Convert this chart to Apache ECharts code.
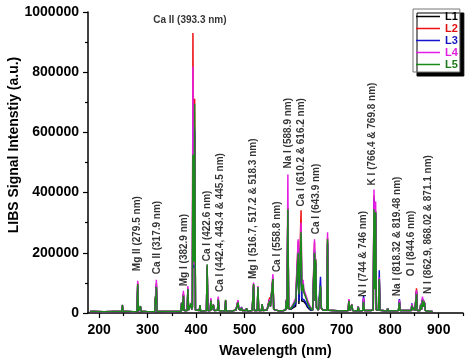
<!DOCTYPE html>
<html>
<head>
<meta charset="utf-8">
<script src="https://cdn.jsdelivr.net/npm/echarts@6/dist/echarts.min.js"></script>
<style>
html,body{margin:0;padding:0;background:#fff;}
#c{width:474px;height:363px;}
</style>
</head>
<body>
<div id="c"></div>
<script>
// Wavelength grid (nm)
const wavelength = [181,190.5,192,193.5,210,230,238,239.2,240.4,246.5,
247.9,249.3,251,252.2,253.4,270,278,279.5,281,284,
285.2,286.5,300,314.5,315.9,316.9,317.9,319.3,340,355,
356.2,357.4,368.5,370,371.5,372.4,373.7,375,381.5,382.9,
384.3,388,389.5,391,392.2,393.3,395,396.8,398.5,400,
406.5,407.8,409,421.2,422.6,424,429,430.3,431.5,434,
435.5,437,444,445.5,447,459.3,460.7,462,475,482,
484.5,486.1,487.7,490,492.2,493.4,494.6,502.5,503.8,505,
515.5,517.2,518.3,519.8,526,527.3,528.8,534.5,536,537.5,
546,550,551.5,553,556.5,558.2,559.8,570,580,584.3,
585.7,587.2,589,590.5,595,600,605,610.3,611.7,613.5,
616.2,617.6,620.3,622,626,630,635,640,642.5,643.9,
645.3,646.5,648,652,654.5,656.3,658,662,669.3,670.8,
672.3,700,713.3,714.8,716.3,719.5,721,722.5,732.5,734,
735.5,743.3,745,746.7,760,765,766.5,768.2,769.9,771.5,
776,777.4,778.8,793.5,794.8,796.2,817,818.9,820.5,843.3,
844.6,846,848.5,849.8,851,852.9,854.2,855.6,861.6,862.9,
864.5,866.5,868.2,869.5,871,872.5,880,887];

const L1 = [5000,5000,10000,5000,4000,5000,5000,8000,5000,5000,
24000,6000,5000,12000,5000,4000,5000,90000,6000,6000,
20000,6000,4000,5000,50000,30000,90000,6000,5000,5000,
10000,5000,6000,33000,8000,8000,62000,8000,8000,78000,
10000,10000,30000,12000,20000,600000,150000,600000,10000,8000,
8000,24000,7000,8000,150000,8000,8000,42000,10000,9000,
26000,8000,9000,45000,8000,7000,40000,7000,7000,10000,
14000,38000,14000,10000,9000,18000,8000,8000,15000,7000,
8000,60000,92000,8000,8000,80000,8000,8000,28000,8000,
10000,16000,45000,22000,18000,110000,12000,7000,8000,10000,
40000,14000,330000,15000,12000,18000,22000,200000,30000,35000,
250000,40000,45000,38000,30000,18000,10000,9000,12000,200000,
40000,160000,18000,10000,16000,80000,16000,9000,9000,230000,
9000,7000,8000,40000,8000,8000,26000,8000,7000,20000,
7000,8000,45000,8000,8000,10000,360000,80000,330000,10000,
10000,110000,9000,7000,15000,7000,8000,38000,8000,8000,
28000,10000,10000,18000,8000,8000,70000,8000,8000,28000,
12000,45000,20000,38000,30000,8000,6000,5000];

const L2 = [5000,5000,10000,5000,4000,5000,5000,8000,5000,5000,
24000,6000,5000,12000,5000,4000,5000,100000,6000,6000,
20000,6000,4000,5000,52000,32000,100000,6000,5000,5000,
10000,5000,6000,33000,8000,8000,65000,8000,8000,82000,
10000,10000,30000,12000,20000,930000,180000,712000,10000,8000,
8000,24000,7000,8000,155000,8000,8000,45000,10000,9000,
26000,8000,9000,48000,8000,7000,42000,7000,7000,10000,
14000,40000,14000,10000,9000,18000,8000,8000,15000,7000,
8000,62000,95000,8000,8000,82000,8000,8000,28000,8000,
10000,16000,52000,22000,18000,115000,12000,7000,8000,10000,
42000,14000,350000,15000,15000,26000,40000,239000,60000,65000,
341000,75000,90000,70000,55000,35000,18000,9000,12000,235000,
40000,170000,18000,10000,16000,85000,16000,9000,9000,250000,
9000,7000,8000,44000,8000,8000,28000,8000,7000,20000,
7000,8000,48000,8000,8000,10000,390000,80000,340000,10000,
10000,115000,9000,7000,15000,7000,8000,40000,8000,8000,
28000,10000,10000,19000,8000,8000,82000,8000,8000,29000,
12000,46000,20000,38000,30000,8000,6000,5000];

const L3 = [5000,5000,10000,5000,4000,5000,5000,8000,5000,5000,
25000,6000,5000,12000,5000,4000,5000,92000,6000,6000,
20000,6000,4000,5000,50000,30000,95000,6000,5000,5000,
10000,5000,6000,33000,8000,8000,60000,8000,8000,80000,
10000,10000,30000,12000,20000,620000,150000,610000,10000,8000,
8000,24000,7000,8000,152000,8000,8000,42000,10000,9000,
26000,8000,9000,46000,8000,7000,40000,7000,7000,10000,
14000,38000,14000,10000,9000,20000,8000,8000,15000,7000,
8000,60000,92000,8000,8000,80000,8000,8000,28000,8000,
10000,16000,44000,22000,18000,112000,12000,7000,8000,10000,
40000,14000,340000,15000,14000,22000,30000,210000,40000,42000,
260000,48000,50000,44000,35000,22000,12000,9000,12000,210000,
40000,165000,18000,10000,16000,120000,16000,9000,9000,235000,
9000,7000,8000,40000,8000,8000,27000,8000,7000,20000,
7000,8000,57000,8000,8000,10000,380000,80000,335000,10000,
10000,142000,9000,7000,15000,7000,8000,46000,8000,8000,
32000,10000,10000,20000,8000,8000,72000,8000,8000,30000,
12000,48000,20000,40000,30000,8000,6000,5000];

const L4 = [5000,5000,11000,5000,4000,5000,5000,8000,5000,5000,
27000,6000,5000,12000,5000,4000,5000,107000,6000,6000,
23000,6000,4000,5000,58000,34000,110000,6000,5000,5000,
11000,5000,6000,36000,8000,8000,74000,8000,8000,90000,
10000,10000,33000,12000,20000,818000,160000,620000,10000,8000,
8000,26000,7000,8000,160000,8000,8000,50000,10000,9000,
30000,8000,9000,55000,8000,7000,43000,7000,7000,10000,
14000,43000,14000,10000,9000,19000,8000,8000,16000,7000,
8000,66000,101000,8000,8000,90000,8000,8000,30000,8000,
10000,16000,46000,22000,18000,129000,12000,7000,8000,10000,
46000,14000,460000,15000,16000,30000,50000,245000,70000,75000,
300000,82000,110000,78000,60000,40000,20000,9000,12000,245000,
40000,180000,18000,10000,16000,88000,16000,9000,9000,268000,
9000,7000,8000,46000,8000,8000,30000,8000,7000,23000,
7000,8000,50000,8000,8000,10000,410000,80000,370000,10000,
10000,118000,9000,7000,16000,7000,8000,43000,8000,8000,
30000,10000,10000,20000,8000,8000,75000,8000,8000,32000,
12000,55000,20000,42000,32000,8000,6000,5000];

const L5 = [5000,5000,11000,5000,4000,5000,5000,8000,5000,5000,
27000,6000,5000,12000,5000,4000,5000,96000,6000,6000,
23000,6000,4000,5000,55000,30000,86000,6000,5000,5000,
11000,5000,6000,34000,8000,8000,57000,8000,8000,80000,
10000,10000,32000,12000,20000,526000,170000,695000,10000,8000,
8000,26000,7000,8000,162000,8000,8000,41000,10000,9000,
28000,8000,9000,45000,8000,7000,44000,7000,7000,10000,
14000,35000,14000,10000,9000,17000,8000,8000,16000,7000,
8000,62000,96000,8000,8000,86000,8000,8000,30000,8000,
10000,16000,40000,22000,18000,113000,12000,7000,8000,10000,
42000,14000,345000,15000,15000,27000,40000,200000,62000,66000,
270000,72000,95000,68000,52000,32000,17000,9000,12000,200000,
40000,178000,18000,10000,16000,90000,16000,9000,9000,245000,
9000,7000,8000,40000,8000,8000,28000,8000,7000,21000,
7000,8000,37000,8000,8000,10000,345000,80000,335000,10000,
10000,113000,9000,7000,15000,7000,8000,35000,8000,8000,
25000,10000,10000,18000,8000,8000,63000,8000,8000,28000,
12000,42000,20000,38000,30000,8000,6000,5000];

const seriesNames = ['L1','L2','L3','L4','L5'];
const xTickLabels = [200,300,400,500,600,700,800,900];
const xMinorTicks = [250,350,450,550,650,750,850,950];

// Peak annotations: text, anchor wavelength, anchor intensity
const annText = ['Ca II (393.3 nm)','Mg II (279.5 nm)','Ca II (317.9 nm)','Mg I (382.9 nm)',
  'Ca I (422.6 nm)','Ca I (442.4, 443.4 & 445.5 nm)','Mg I (516.7, 517.2 & 518.3 nm)',
  'Ca I (558.8 nm)','Na I (588.9 nm)','Ca I (610.2 & 616.2 nm)','Ca I (643.9 nm)',
  'N I (744 & 746 nm)','K I (766.4 & 769.8 nm)','Na I (818.32 & 819.48 nm)',
  'O I (844.6 nm)','N I (862.9, 868.02 & 871.1 nm)'];
const annX = [387,278,319.4,374.8,422.1,448.9,516.8,566.2,589,617,646.5,743.5,763.8,815,844,879];
const annY = [973000,139000,129000,89000,172000,69500,112600,135800,480000,354000,261600,53000,424000,56000,122500,63000];

const colors = ['#000000','#ee1111','#1515d0','#e51ee5','#1a8a1a'];
const textColors = ['#000000','#e01010','#1515c0','#e020e0','#1a7a1a'];
const FONT = 'Liberation Sans, Arial, Helvetica, sans-serif';

const chart = echarts.init(document.getElementById('c'), null, {renderer:'canvas'});

const lineSeries = [L1,L2,L3,L4,L5].map((vals, i) => ({
  name: seriesNames[i],
  type: 'line',
  symbol: 'none',
  animation: false,
  data: wavelength.map((w, k) => [w, vals[k]]),
  lineStyle: {color: colors[i], width: 1.5},
  itemStyle: {color: colors[i]},
  z: 2 + i
}));

const annSeries = {
  type: 'scatter',
  silent: true,
  animation: false,
  symbolSize: 0,
  z: 20,
  data: annText.map((t, i) => ({
    value: [annX[i], annY[i]],
    label: i === 0
      ? {show: true, formatter: t, rotate: 0, align: 'center', verticalAlign: 'middle', position: 'inside'}
      : {show: true, formatter: t, rotate: 90, align: 'left', verticalAlign: 'middle', position: 'inside'}
  })),
  label: {show: true, color: '#000', fontSize: 10, fontWeight: 'bold', fontFamily: FONT}
};

const legendIcon = 'path://M0,0 L0.01,0 M0,4.7 L24,4.7 L24,6.3 L0,6.3 Z M0,11 L0.01,11';
const richStyles = {};
seriesNames.forEach((n, i) => {
  richStyles[n] = {color: textColors[i], fontSize: 11, fontWeight: 'bold', fontFamily: FONT};
});

chart.setOption({
  animation: false,
  backgroundColor: '#fff',
  grid: {left: 88, right: 11, top: 12, bottom: 49, containLabel: false},
  legend: {
    orient: 'vertical',
    left: 413, top: 9,
    data: seriesNames.map((n, i) => ({name: n, icon: legendIcon, itemStyle: {color: colors[i]}})),
    formatter: n => '{' + n + '|' + n + '}',
    itemWidth: 24, itemHeight: 11, itemGap: 1,
    symbolKeepAspect: false,
    padding: [2, 2, 2, 3],
    backgroundColor: '#fff',
    borderColor: '#777', borderWidth: 1,
    shadowColor: '#000', shadowBlur: 0, shadowOffsetX: 4, shadowOffsetY: 4,
    textStyle: {fontSize: 11, fontWeight: 'bold', fontFamily: FONT, rich: richStyles},
    selectedMode: false
  },
  xAxis: [{
    type: 'value', min: 177, max: 950,
    name: 'Wavelength (nm)', nameLocation: 'middle', nameGap: 31,
    nameTextStyle: {fontSize: 14, fontWeight: 'bold', fontFamily: FONT, color: '#000'},
    axisLine: {lineStyle: {color: '#000', width: 1.5}},
    axisTick: {show: true, inside: false, length: 5, customValues: xTickLabels, lineStyle: {color: '#000', width: 1.2}},
    axisLabel: {customValues: xTickLabels, fontSize: 14, fontWeight: 'bold', fontFamily: FONT, color: '#000', margin: 10},
    splitLine: {show: false}
  }, {
    type: 'value', min: 177, max: 950, position: 'bottom',
    axisLine: {show: false},
    axisTick: {show: true, inside: false, length: 3, customValues: xMinorTicks, lineStyle: {color: '#000', width: 1.2}},
    axisLabel: {show: false, customValues: xMinorTicks},
    splitLine: {show: false}
  }],
  yAxis: {
    type: 'value', min: 0, max: 1000000, interval: 200000,
    axisLine: {show: true, lineStyle: {color: '#000', width: 1.5}},
    axisTick: {show: true, inside: false, length: 5, lineStyle: {color: '#000', width: 1.2}},
    minorTick: {show: true, splitNumber: 2, length: 3, lineStyle: {color: '#000', width: 1.2}},
    axisLabel: {fontSize: 14, fontWeight: 'bold', fontFamily: FONT, color: '#000', margin: 9,
                formatter: v => String(v)},
    splitLine: {show: false}
  },
  graphic: [{
    type: 'text', x: 14, y: 145, rotation: Math.PI / 2,
    style: {text: 'LIBS Signal Intenstiy (a.u.)', fontSize: 14, fontWeight: 'bold', fontFamily: FONT,
            fill: '#000', align: 'center', verticalAlign: 'middle'}
  }],
  series: lineSeries.concat([annSeries])
});
</script>
</body>
</html>
